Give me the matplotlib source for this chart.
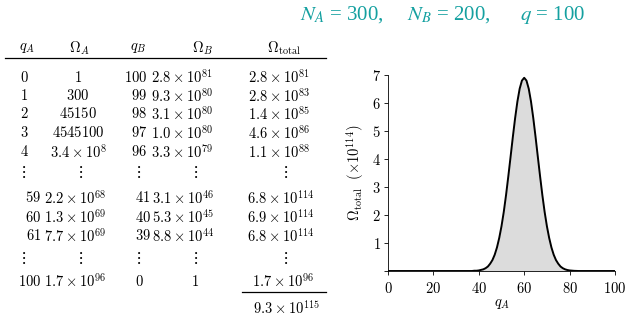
import matplotlib
matplotlib.use('Agg')
import matplotlib.pyplot as plt
from matplotlib.lines import Line2D

plt.rcParams['mathtext.fontset'] = 'cm'
plt.rcParams['font.family'] = 'serif'

W, H = 640, 327

# table contents
col_headers = [r'$q_A$', r'$\Omega_A$', r'$q_B$', r'$\Omega_B$', r'$\Omega_{\rm total}$']
qa_top = ['0', '1', '2', '3', '4']
omega_a_top = ['1', '300', '45150', '4545100', r'3.4\times10^{8}']
qb_top = ['100', '99', '98', '97', '96']
omega_b_top = [r'2.8\times10^{81}', r'9.3\times10^{80}', r'3.1\times10^{80}',
               r'1.0\times10^{80}', r'3.3\times10^{79}']
omega_tot_top = [r'2.8\times10^{81}', r'2.8\times10^{83}', r'1.4\times10^{85}',
                 r'4.6\times10^{86}', r'1.1\times10^{88}']

qa_mid = ['59', '60', '61']
omega_a_mid = [r'2.2\times10^{68}', r'1.3\times10^{69}', r'7.7\times10^{69}']
qb_mid = ['41', '40', '39']
omega_b_mid = [r'3.1\times10^{46}', r'5.3\times10^{45}', r'8.8\times10^{44}']
omega_tot_mid = [r'6.8\times10^{114}', r'6.9\times10^{114}', r'6.8\times10^{114}']

last_row = ['100', r'1.7\times10^{96}', '0', '1', r'1.7\times10^{96}']
omega_sum = r'9.3\times10^{115}'

title_parts = [r'$N_A$ = 300,', r'$N_B$ = 200,', r'$q$ = 100']

# curve (units of 10^114)
qa_curve = [0, 36, 37, 38, 39, 40, 41, 42, 43, 44, 45, 46, 47, 48, 49, 50,
            51, 52, 53, 54, 55, 56, 57, 58, 59, 60, 61, 62, 63, 64, 65, 66,
            67, 68, 69, 70, 71, 72, 73, 74, 75, 76, 77, 78, 79, 80, 82, 84, 100]
omega_curve = [0.0, 0.0, 0.0, 0.01, 0.01, 0.02, 0.04, 0.06, 0.10, 0.16, 0.26,
               0.39, 0.58, 0.84, 1.18, 1.60, 2.11, 2.71, 3.38, 4.08, 4.79,
               5.46, 6.05, 6.51, 6.80, 6.90, 6.80, 6.51, 6.05, 5.46, 4.79,
               4.08, 3.38, 2.71, 2.11, 1.60, 1.18, 0.84, 0.58, 0.39, 0.26,
               0.16, 0.10, 0.06, 0.035, 0.02, 0.006, 0.0, 0.0]

teal = '#14a0a0'


def ftext(x, y, s, ha='center', size=10.5, **kw):
    return fig.text(x / W, 1 - y / H, s, ha=ha, va='center', fontsize=size, **kw)


def hline(x0, x1, y, lw=0.9):
    fig.add_artist(Line2D([x0 / W, x1 / W], [1 - y / H, 1 - y / H],
                          transform=fig.transFigure, color='k', lw=lw))


fig = plt.figure(figsize=(W / 100, H / 100), dpi=100)

# title
for x, s in zip([300, 407, 520], title_parts):
    ftext(x, 15, s, ha='left', size=15, color=teal,
          family='Liberation Serif', math_fontfamily='stix')

# table
header_x = [27, 79, 138, 202, 284]
for x, s in zip(header_x, col_headers):
    ftext(x, 48, s)
hline(5, 326, 58)

top_y = [77, 95.5, 114, 133, 152]
for i, y in enumerate(top_y):
    ftext(20, y, '$' + qa_top[i] + '$', ha='left')
    ftext(78, y, '$' + omega_a_top[i] + '$')
    ftext(147, y, '$' + qb_top[i] + '$', ha='right')
    ftext(151, y, '$' + omega_b_top[i] + '$', ha='left')
    ftext(248, y, '$' + omega_tot_top[i] + '$', ha='left')

dots_x = [23, 80, 138, 195, 285]
for y in (171, 257):
    for x in dots_x:
        ftext(x, y, r'$\vdots$', size=11.5)

mid_y = [198, 217, 236]
for i, y in enumerate(mid_y):
    ftext(41, y, '$' + qa_mid[i] + '$', ha='right')
    ftext(44, y, '$' + omega_a_mid[i] + '$', ha='left')
    ftext(135, y, '$' + qb_mid[i] + '$', ha='left')
    ftext(152, y, '$' + omega_b_mid[i] + '$', ha='left')
    ftext(247, y, '$' + omega_tot_mid[i] + '$', ha='left')

ftext(41, 281, '$' + last_row[0] + '$', ha='right')
ftext(44, 281, '$' + last_row[1] + '$', ha='left')
ftext(135, 281, '$' + last_row[2] + '$', ha='left')
ftext(195, 281, '$' + last_row[3] + '$')
ftext(283, 281, '$' + last_row[4] + '$')
hline(242, 326, 292)
ftext(287, 308, '$' + omega_sum + '$')

# plot
ax = fig.add_axes([388 / W, 56 / H, 227 / W, 196 / H])
ax.fill_between(qa_curve, omega_curve, color='#dcdcdc', lw=0)
ax.plot(qa_curve, omega_curve, color='black', lw=1.4)
ax.set_xlim(0, 100)
ax.set_ylim(0, 7)
ax.set_xticks([0, 20, 40, 60, 80, 100])
ax.set_xticklabels(['$0$', '$20$', '$40$', '$60$', '$80$', '$100$'])
ax.set_yticks(range(8))
ax.set_yticklabels([''] + ['$%d$' % i for i in range(1, 8)])
ax.tick_params(direction='out', length=3, width=0.6, labelsize=10.5, pad=2)
ax.tick_params(axis='x', pad=4)
ax.spines['top'].set_visible(False)
ax.spines['right'].set_visible(False)
ax.spines['left'].set_linewidth(0.6)
ax.spines['bottom'].set_linewidth(0.6)
ax.set_xlabel('$q_A$', fontsize=10.5, labelpad=1)
ax.set_ylabel(r'$\Omega_{\rm total}\ \ (\times 10^{114})$', fontsize=10.5, labelpad=4)

plt.savefig('out.png', dpi=100)
